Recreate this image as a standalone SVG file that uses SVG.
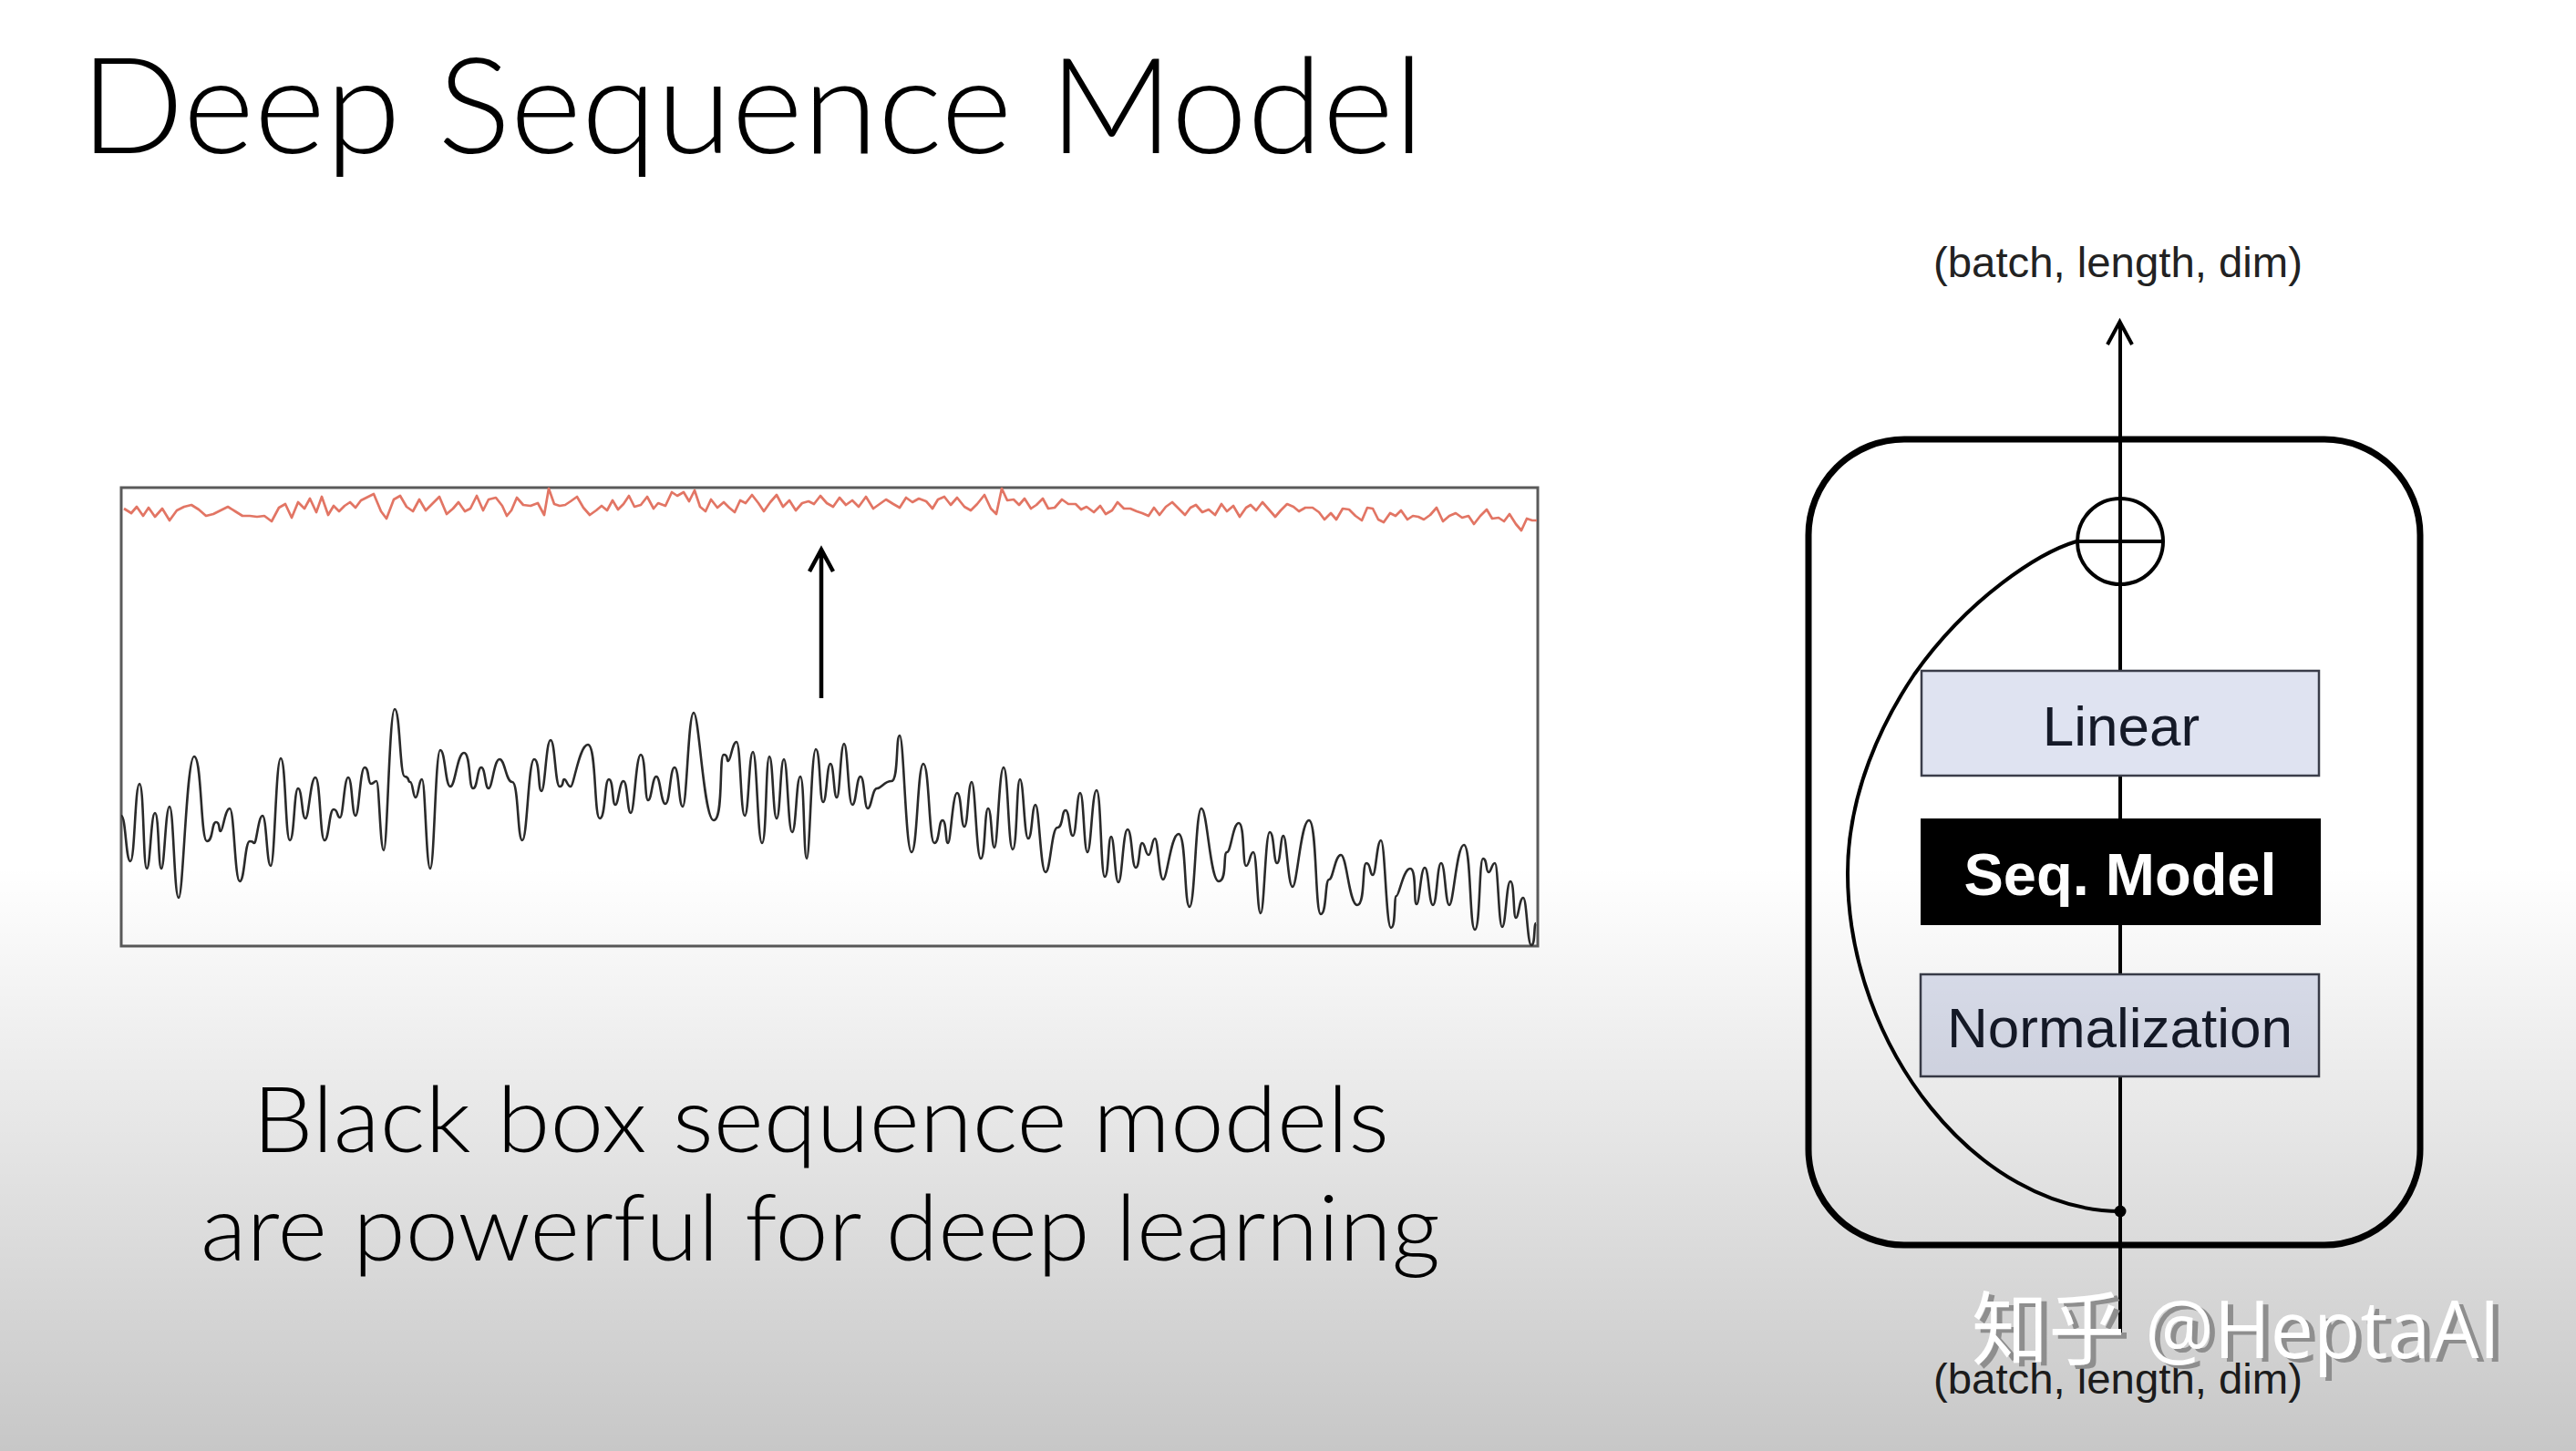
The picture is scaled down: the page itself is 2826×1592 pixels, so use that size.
<svg xmlns="http://www.w3.org/2000/svg" width="2826" height="1592" viewBox="0 0 2826 1592">
<defs>
<style>
.slide{font-family:"Lato","Open Sans","DejaVu Sans",sans-serif;font-weight:300;fill:#000}
.lbl{font-family:"Liberation Sans",Arial,sans-serif;font-size:46px;fill:#222;text-anchor:middle}
.box{fill:#dfe3f1;stroke:#3a3d4a;stroke-width:2.5}
.boxtxt{font-family:"Liberation Sans",Arial,sans-serif;font-size:62px;fill:#151a28;text-anchor:middle}
.conn{fill:none;stroke:#000;stroke-width:4}
.wm{font-family:"Open Sans","Noto Sans CJK SC",sans-serif;font-size:88px}
</style>
<linearGradient id="shade" gradientUnits="userSpaceOnUse" x1="0" y1="950" x2="0" y2="1592">
<stop offset="0" stop-color="#000" stop-opacity="0"/>
<stop offset="1" stop-color="#000" stop-opacity="0.22"/>
</linearGradient>
</defs>
<rect x="0" y="0" width="2826" height="1592" fill="#fff"/>

<g id="title">
<text class="slide" x="88" y="168" font-size="146" textLength="1474" lengthAdjust="spacingAndGlyphs">Deep Sequence Model</text>
</g>

<g id="plot">
<rect x="133" y="535" width="1554" height="503" fill="#fff" stroke="#5a5a5a" stroke-width="3"/>
<polyline fill="none" stroke="#e27564" stroke-width="2.7" stroke-linejoin="round" points="136,558 144,563 150,556 157,566 163,557 170,567 178,558 186,571 194,560 202,556 210,554 218,559 226,566 234,564 242,560 250,556 258,561 266,566 274,566 282,567 290,566 298,572 306,557 313,553 320,568 327,551 334,558 340,547 347,562 353,545 360,565 366,555 372,561 378,555 384,551 390,557 396,549 402,546 410,542 418,561 424,569 432,548 439,544 446,556 453,561 460,548 467,560 474,553 482,545 490,564 497,558 503,551 510,561 516,558 523,544 530,560 536,548 544,546 551,555 556,566 561,560 567,546 574,554 582,555 590,552 597,565 602,536 608,553 614,555 620,554 626,550 633,545 640,557 647,565 654,560 660,555 666,560 672,549 678,559 684,553 690,544 696,556 703,554 710,545 717,558 722,552 730,555 737,540 743,544 750,540 756,550 762,538 768,556 774,561 780,548 787,557 794,551 800,557 806,562 812,549 818,552 825,543 832,552 838,561 845,551 852,543 859,556 866,549 873,560 880,552 887,550 893,553 900,544 907,552 914,556 921,546 928,554 935,549 942,556 950,545 958,558 965,553 972,548 980,553 987,557 994,546 1001,551 1008,547 1016,550 1023,558 1029,548 1036,545 1043,554 1050,546 1058,556 1065,560 1072,553 1080,543 1087,558 1093,564 1099,536 1105,549 1112,548 1118,554 1124,547 1131,558 1137,554 1144,547 1150,558 1157,557 1165,548 1172,553 1180,553 1186,559 1192,556 1200,562 1207,555 1213,564 1220,560 1226,551 1233,558 1240,558 1247,561 1253,563 1260,566 1266,557 1272,565 1279,556 1286,551 1293,558 1300,565 1306,557 1312,554 1319,562 1326,559 1333,565 1340,553 1346,561 1353,555 1360,567 1367,557 1372,554 1378,560 1385,551 1392,559 1399,567 1405,560 1412,553 1419,556 1425,561 1432,557 1440,557 1447,562 1453,570 1460,563 1466,570 1473,558 1480,559 1487,566 1494,571 1500,557 1506,558 1512,570 1518,573 1525,563 1531,566 1537,560 1544,570 1550,566 1556,567 1562,570 1569,565 1576,557 1583,572 1590,566 1597,563 1604,568 1611,566 1617,575 1624,566 1631,559 1637,569 1644,568 1650,572 1656,564 1663,575 1669,582 1675,569 1681,571 1686,571"/>
<path fill="none" stroke="#2a2a2a" stroke-width="2.6" stroke-linejoin="round" d="M133 895 C138 895 138 945 143 945 S148 860 153 860 S157 953 161 953 S165.5 892 170 892 S173.5 953 177 953 S181.5 885 186 885 S191 985 196 985 S204.5 830 213 830 S220 923 227 923 S232 902 237 902 S239.5 912 242 912 S247 887 252 887 S257.5 967 263 967 S268.5 923 274 923 S276.5 925 279 925 S283.5 895 288 895 S292.5 950 297 950 S302.5 832 308 832 S313 922 318 922 S322.5 865 327 865 S331 898 335 898 S340.5 853 346 853 S351 922 356 922 S361 888 366 888 S369.5 897 373 897 S377.5 853 382 853 S386 895 390 895 S395 842 400 842 S403.5 860 407 860 S410 857 413 857 S417 933 421 933 S427 778 433 778 S438.5 852 444 852 S447 858 450 858 S453 875 456 875 S459.5 855 463 855 S467.5 953 472 953 S477.5 823 483 823 S488.5 863 494 863 S501.5 826 509 826 S514 865 519 865 S523.5 842 528 842 S532 865 536 865 S542 833 548 833 S555 858 562 858 S567.5 922 573 922 S579.5 833 586 833 S590 868 594 868 S599 812 604 812 S609 863 614 863 S616.5 855 619 855 S622.5 863 626 863 S635.5 817 645 817 S651.5 898 658 898 S663 855 668 855 S671.5 883 675 883 S679.5 857 684 857 S688 892 692 892 S697.5 828 703 828 S707 878 711 878 S715.5 852 720 852 S725 882 730 882 S735 842 740 842 S744.5 885 749 885 S755 782 761 782 S772 900 783 900 S788.5 828 794 828 S796.5 835 799 835 S803.5 814 808 814 S812.5 895 817 895 S821.5 825 826 825 S831 925 836 925 S840 830 844 830 S848 898 852 898 S856 833 860 833 S864.5 913 869 913 S873.5 852 878 852 S881.5 942 885 942 S890 822 895 822 S899 880 903 880 S907 838 911 838 S914.5 875 918 875 S922 816 926 816 S930.5 883 935 883 S939.5 852 944 852 S948 887 952 887 S957 865 962 865 S970 857 978 857 S982.5 807 987 807 S993.5 935 1000 935 S1006.5 838 1013 838 S1019 925 1025 925 S1029.5 900 1034 900 S1037 925 1040 925 S1045 870 1050 870 S1054 907 1058 907 S1062 858 1066 858 S1071 942 1076 942 S1080 887 1084 887 S1087.5 930 1091 930 S1096 842 1101 842 S1106 932 1111 932 S1115 855 1119 855 S1123.5 920 1128 920 S1132 883 1136 883 S1141.5 957 1147 957 S1153.5 908 1160 908 S1164.5 889 1169 889 S1173 917 1177 917 S1181 870 1185 870 S1189 935 1193 935 S1198 867 1203 867 S1207.5 962 1212 962 S1215.5 918 1219 918 S1223 968 1227 968 S1232 910 1237 910 S1241.5 952 1246 952 S1249.5 925 1253 925 S1256.5 938 1260 938 S1263.5 920 1267 920 S1271.5 965 1276 965 S1284.5 915 1293 915 S1299 995 1305 995 S1311.5 887 1318 887 S1327.5 967 1337 967 S1341.5 935 1346 935 S1352.5 903 1359 903 S1363 950 1367 950 S1371 935 1375 935 S1379 1002 1383 1002 S1388 913 1393 913 S1397 947 1401 947 S1404.5 917 1408 917 S1413 973 1418 973 S1427 900 1436 900 S1442.5 1003 1449 1003 S1453.5 965 1458 965 S1464.5 938 1471 938 S1480 993 1489 993 S1494 947 1499 947 S1502.5 960 1506 960 S1510.5 922 1515 922 S1520.5 1018 1526 1018 S1529 983 1532 983 S1539.5 953 1547 953 S1550.5 992 1554 992 S1558.5 952 1563 952 S1567.5 993 1572 993 S1576.5 947 1581 947 S1585.5 993 1590 993 S1598 927 1606 927 S1612 1020 1618 1020 S1622.5 942 1627 942 S1630 957 1633 957 S1636.5 947 1640 947 S1644 1017 1648 1017 S1652.5 967 1657 967 S1660 1007 1663 1007 S1667 985 1671 985 S1675.5 1037 1680 1037 S1682.5 1013 1685 1013"/>
<path fill="none" stroke="#000" stroke-width="4.5" stroke-linejoin="miter" d="M901 766 V605 M888 627 L901 603 L914 627"/>
</g>

<g id="caption">
<text class="slide" x="277" y="1264" font-size="100" textLength="1247" lengthAdjust="spacingAndGlyphs">Black box sequence models</text>
<text class="slide" x="220" y="1383" font-size="100" textLength="1360" lengthAdjust="spacingAndGlyphs">are powerful for deep learning</text>
</g>

<g id="connectors">
<path class="conn" d="M2326 1468 V356"/>
<path class="conn" d="M2312 378 L2325.5 353 L2339 378"/>
<path class="conn" stroke-width="3.5" d="M2278 594 C2238 606 2160 655 2100 740 C2065 792 2027 870 2027 958 C2027 1150 2170 1328 2326 1329"/>
<circle cx="2326" cy="1329" r="6.5" fill="#000"/>
</g>

<g id="residual-block">
<rect x="1984" y="482" width="671" height="884" rx="105" ry="105" fill="none" stroke="#000" stroke-width="7"/>
</g>

<g id="add-node">
<circle cx="2326" cy="594" r="47" fill="none" stroke="#000" stroke-width="4"/>
<line x1="2279" y1="594" x2="2373" y2="594" stroke="#000" stroke-width="4"/>
</g>

<g id="linear">
<rect class="box" x="2108" y="736" width="436" height="115"/>
<text class="boxtxt" x="2327" y="818">Linear</text>
</g>

<g id="seq-model">
<rect x="2107" y="898" width="439" height="117" fill="#000"/>
<text x="2326" y="982" font-family="Liberation Sans, Arial, sans-serif" font-weight="bold" font-size="65" fill="#fff" text-anchor="middle">Seq. Model</text>
</g>

<g id="normalization">
<rect class="box" x="2107" y="1069" width="437" height="112"/>
<text class="boxtxt" x="2325.5" y="1149">Normalization</text>
</g>

<g id="labels">
<text class="lbl" x="2323.5" y="304" textLength="405" lengthAdjust="spacingAndGlyphs">(batch, length, dim)</text>
<text class="lbl" x="2323.5" y="1529" textLength="405" lengthAdjust="spacingAndGlyphs">(batch, length, dim)</text>
</g>

<rect x="0" y="0" width="2826" height="1592" fill="url(#shade)"/>

<g id="watermark">
<text class="wm" x="2169" y="1494" fill="#8e8e8e" textLength="580" lengthAdjust="spacingAndGlyphs">知乎 @HeptaAI</text>
<text class="wm" x="2163" y="1490" fill="#fff" textLength="580" lengthAdjust="spacingAndGlyphs">知乎 @HeptaAI</text>
</g>
</svg>
